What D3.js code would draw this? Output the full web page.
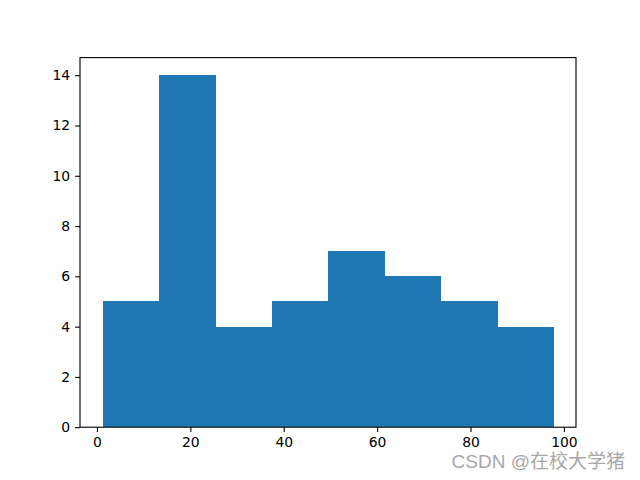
<!DOCTYPE html>
<html>
<head>
<meta charset="utf-8">
<script src="https://cdn.jsdelivr.net/npm/d3@7"></script>
<style>
  body { margin: 0; background: #fff; }
  svg text { font-family: "DejaVu Sans", sans-serif; }
</style>
</head>
<body>
<div id="chart"></div>
<script>
// histogram bins
const binEdges = [1.2, 13.27, 25.34, 37.41, 49.48, 61.55, 73.62, 85.69, 97.76];
const counts = [5, 14, 4, 5, 7, 6, 5, 4];
const xTicks = [0, 20, 40, 60, 80, 100];
const yTicks = [0, 2, 4, 6, 8, 10, 12, 14];

const width = 640, height = 480;
const margin = {left: 80, right: 64, top: 57.6, bottom: 52.8};

const svg = d3.select("#chart")
  .append("svg")
  .attr("width", width)
  .attr("height", height);

// 5% padding like matplotlib
const xMin = binEdges[0], xMax = binEdges[binEdges.length - 1];
const pad = (xMax - xMin) * 0.05;
const x = d3.scaleLinear()
  .domain([xMin - pad, xMax + pad])
  .range([margin.left, width - margin.right]);

const yMax = d3.max(counts) * 1.05;
const y = d3.scaleLinear()
  .domain([0, yMax])
  .range([height - margin.bottom, margin.top]);

const bins = counts.map((c, i) => ({x0: binEdges[i], x1: binEdges[i + 1], n: c}));

// bars
svg.append("g")
  .selectAll("rect")
  .data(bins)
  .join("rect")
  .attr("x", d => x(d.x0))
  .attr("y", d => y(d.n))
  .attr("width", d => x(d.x1) - x(d.x0) + 0.5)
  .attr("height", d => y(0) - y(d.n))
  .attr("fill", "#1f77b4")
  .attr("shape-rendering", "crispEdges");

// axes
const xAxis = svg.append("g")
  .attr("transform", "translate(0," + (height - margin.bottom) + ")")
  .call(d3.axisBottom(x).tickValues(xTicks).tickSize(4.9).tickPadding(4.9));

const yAxis = svg.append("g")
  .attr("transform", "translate(" + margin.left + ",0)")
  .call(d3.axisLeft(y).tickValues(yTicks).tickSize(4.9).tickPadding(4.9));

[xAxis, yAxis].forEach(a => {
  a.select(".domain").remove();
  a.selectAll("text").style("font-size", "13.9px").attr("fill", "#000");
  a.selectAll("line").attr("stroke", "#000").attr("stroke-width", 1.1);
});

// frame
svg.append("rect")
  .attr("x", margin.left)
  .attr("y", margin.top)
  .attr("width", width - margin.left - margin.right)
  .attr("height", height - margin.top - margin.bottom)
  .attr("fill", "none")
  .attr("stroke", "#000")
  .attr("stroke-width", 1.1);

// watermark
svg.append("text")
  .attr("x", 625)
  .attr("y", 468)
  .attr("text-anchor", "end")
  .style("font-family", "'Liberation Sans', 'Noto Sans CJK SC', sans-serif")
  .style("font-size", "19px")
  .attr("fill", "#a8a8a8")
  .text("CSDN @在校大学猪");
</script>
</body>
</html>
